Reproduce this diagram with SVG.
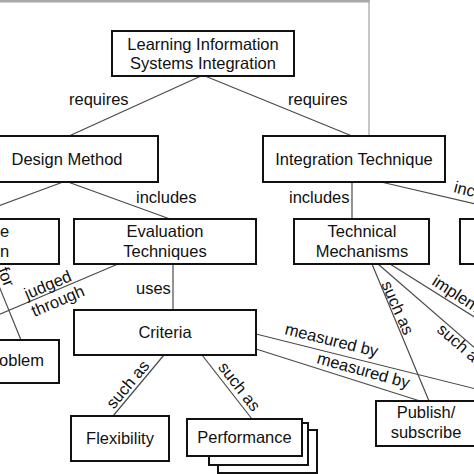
<svg xmlns="http://www.w3.org/2000/svg" width="474" height="474" viewBox="0 0 474 474">
<style>
.box{fill:#fff;stroke:#111;stroke-width:2}
.t{font-family:"Liberation Sans",Arial,sans-serif;font-size:16.5px;fill:#111}
.m{text-anchor:middle}
.c{stroke:#4a4a4a;stroke-width:1.2;fill:none}
.frame{stroke:#a8a8a8;fill:none}
</style>
<rect width="474" height="474" fill="#fff"/>
<g id="frame">
<line class="frame" x1="0" y1="1.2" x2="369.5" y2="1.2" stroke-width="2.4"/>
<line class="frame" x1="369" y1="0" x2="369" y2="136" stroke-width="1.3"/>
</g>
<g id="connectors">
<line class="c" x1="201" y1="76" x2="69" y2="136"/>
<line class="c" x1="205" y1="76" x2="352" y2="136"/>
<line class="c" x1="63" y1="182" x2="-10" y2="209"/>
<line class="c" x1="68" y1="182" x2="170" y2="219"/>
<line class="c" x1="352" y1="182" x2="352" y2="219"/>
<line class="c" x1="381" y1="182" x2="476" y2="204"/>
<line class="c" x1="173" y1="264" x2="173" y2="310"/>
<line class="c" x1="118" y1="264" x2="-2" y2="315"/>
<line class="c" x1="-10" y1="264" x2="21" y2="340"/>
<line class="c" x1="164" y1="355" x2="113" y2="416"/>
<line class="c" x1="202" y1="355" x2="252" y2="419"/>
<line class="c" x1="256" y1="349" x2="420" y2="401"/>
<line class="c" x1="256" y1="334" x2="476" y2="389"/>
<line class="c" x1="372" y1="264" x2="429" y2="401"/>
<line class="c" x1="378" y1="264" x2="476" y2="349"/>
<line class="c" x1="390" y1="264" x2="476" y2="318"/>
</g>
<g id="labels">
<text class="t" x="69" y="105">requires</text>
<text class="t" x="288" y="105">requires</text>
<text class="t" x="136" y="203">includes</text>
<text class="t" x="289" y="203">includes</text>
<text class="t" x="453" y="192" transform="rotate(14 453 192)">inc</text>
<text class="t" x="136" y="294">uses</text>
<text class="t m" x="50" y="290" transform="rotate(-23 50 290)">judged</text>
<text class="t m" x="60" y="306" transform="rotate(-23 60 306)">through</text>
<text class="t m" x="1" y="279" transform="rotate(68 1 279)">for</text>
<text class="t m" x="132" y="388" transform="rotate(-50 132 388)">such as</text>
<text class="t m" x="235" y="390" transform="rotate(52 235 390)">such as</text>
<text class="t" x="284" y="334" transform="rotate(14 284 334)">measured by</text>
<text class="t" x="316" y="363" transform="rotate(15.5 316 363)">measured by</text>
<text class="t" x="381" y="284" transform="rotate(66 381 284)">such as</text>
<text class="t" x="436" y="331" transform="rotate(41 436 331)">such a</text>
<text class="t" x="431" y="284" transform="rotate(33 431 284)">implem</text>
</g>
<g id="lis">
<rect class="box" x="112" y="31" width="182" height="45"/>
<text class="t m" x="203" y="49.5">Learning Information</text>
<text class="t m" x="203" y="68.5">Systems Integration</text>
</g>
<g id="design-method">
<rect class="box" x="-24" y="136" width="182" height="46"/>
<text class="t m" x="67" y="164.5">Design Method</text>
</g>
<g id="integration-technique">
<rect class="box" x="263" y="136" width="182" height="46"/>
<text class="t m" x="354" y="164.5">Integration Technique</text>
</g>
<g id="left-node">
<rect class="box" x="-60" y="219" width="119" height="45"/>
<text class="t" x="0" y="237">e</text>
<text class="t" x="0" y="257">n</text>
</g>
<g id="evaluation-techniques">
<rect class="box" x="74" y="219" width="182" height="45"/>
<text class="t m" x="165" y="237">Evaluation</text>
<text class="t m" x="165" y="257">Techniques</text>
</g>
<g id="technical-mechanisms">
<rect class="box" x="294" y="219" width="135" height="45"/>
<text class="t m" x="362" y="237">Technical</text>
<text class="t m" x="362" y="257">Mechanisms</text>
</g>
<g id="right-node">
<rect class="box" x="460" y="219" width="40" height="45"/>
</g>
<g id="criteria">
<rect class="box" x="74" y="310" width="182" height="45"/>
<text class="t m" x="165" y="338">Criteria</text>
</g>
<g id="problem">
<rect class="box" x="-60" y="340" width="119" height="43"/>
<text class="t" x="44" y="366" text-anchor="end">oblem</text>
</g>
<g id="flexibility">
<rect class="box" x="71" y="416" width="98" height="45"/>
<text class="t m" x="120" y="444">Flexibility</text>
</g>
<g id="performance">
<rect class="box" x="218" y="430" width="99" height="43"/>
<rect class="box" x="209" y="423" width="99" height="42"/>
<rect class="box" x="187" y="419" width="115" height="37"/>
<text class="t m" x="244.5" y="443">Performance</text>
</g>
<g id="publish-subscribe">
<rect class="box" x="376" y="401" width="100" height="45"/>
<text class="t m" x="426" y="418">Publish/</text>
<text class="t m" x="426" y="438">subscribe</text>
</g>
</svg>
